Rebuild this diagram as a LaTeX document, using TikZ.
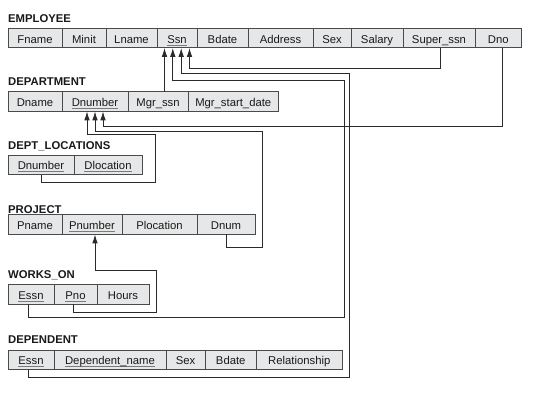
\documentclass[tikz,border=0pt]{standalone}
\usepackage{fontspec}
\setmainfont{Liberation Sans}
\usetikzlibrary{arrows.meta}
\definecolor{cellfill}{HTML}{E6E7E8}
\definecolor{cellline}{HTML}{4A4A4A}
\definecolor{connc}{HTML}{2A2A2A}
\definecolor{ulc}{HTML}{7A7A7A}
\newsavebox\ulbox
\newcommand\keyul[1]{\sbox\ulbox{#1}\rlap{\color{ulc}\rule[-2.3pt]{\wd\ulbox}{0.9pt}}\usebox\ulbox}
\tikzset{
 cellbox/.style={draw=cellline, fill=cellfill, line width=0.9pt, anchor=north west,
   inner sep=0pt, outer sep=0pt, minimum height=19.6pt, text height=10.2pt, text depth=0pt,
   font=\fontsize{11.3}{13}\selectfont, text=black!90},
 tlabel/.style={anchor=base west, inner sep=0pt, font=\fontsize{11.3}{13}\selectfont\bfseries, text=black!90},
 conn/.style={draw=connc, line width=1pt},
 arr/.style={conn, -{Latex[length=9pt,width=5.6pt]}},
}
\newcommand\cellat[5]{\node[cellbox, minimum width={(#3)-(#2)}] (#1) at (#2,#4) {#5};}
\begin{document}
\begin{tikzpicture}[x=1pt,y=-1pt]
\useasboundingbox (0,0) rectangle (546,419);
% EMPLOYEE
\node[tlabel] (lemp) at (8,22.7) {EMPLOYEE};
\cellat{efname}{8}{62}{28.3}{Fname}
\cellat{eminit}{62}{106}{28.3}{Minit}
\cellat{elname}{106}{157}{28.3}{Lname}
\cellat{essn}{157}{197}{28.3}{\keyul{Ssn}}
\cellat{ebdate}{197}{248}{28.3}{Bdate}
\cellat{eaddr}{248}{313}{28.3}{Address}
\cellat{esex}{313}{351}{28.3}{Sex}
\cellat{esal}{351}{403}{28.3}{Salary}
\cellat{esuper}{403}{475}{28.3}{Super\_ssn}
\cellat{edno}{475}{521.7}{28.3}{Dno}
% DEPARTMENT
\node[tlabel] (ldept) at (8,86) {DEPARTMENT};
\cellat{dname}{8}{62}{91.7}{Dname}
\cellat{dnum}{62}{128}{91.7}{\keyul{Dnumber}}
\cellat{dmgr}{128}{188}{91.7}{Mgr\_ssn}
\cellat{dstart}{188}{278.5}{91.7}{Mgr\_start\_date}
% DEPT_LOCATIONS
\node[tlabel] (lloc) at (8,150) {DEPT\_LOCATIONS};
\cellat{ldnum}{8}{74}{155}{\keyul{Dnumber}}
\cellat{llocat}{74}{142}{155}{\keyul{Dlocation}}
% PROJECT
\node[tlabel] (lproj) at (8,213.3) {PROJECT};
\cellat{pname}{8}{62}{214.8}{Pname}
\cellat{pnum}{62}{122}{214.8}{\keyul{Pnumber}}
\cellat{ploc}{122}{197}{214.8}{Plocation}
\cellat{pdnum}{197}{255}{214.8}{Dnum}
% WORKS_ON
\node[tlabel] (lworks) at (8,278.3) {WORKS\_ON};
\cellat{wessn}{8}{54}{284.5}{\keyul{Essn}}
\cellat{wpno}{54}{97}{284.5}{\keyul{Pno}}
\cellat{whours}{97}{149}{284.5}{Hours}
% DEPENDENT
\node[tlabel] (ldep) at (8,343.3) {DEPENDENT};
\cellat{tessn}{8}{54}{350}{\keyul{Essn}}
\cellat{tname}{54}{166}{350}{\keyul{Dependent\_name}}
\cellat{tsex}{166}{205}{350}{Sex}
\cellat{tbdate}{205}{256.5}{350}{Bdate}
\cellat{trel}{256.5}{342}{350}{Relationship}
% arrow tips
\coordinate (sA) at ([xshift=-12.5pt]essn.south);
\coordinate (sB) at ([xshift=-4.2pt]essn.south);
\coordinate (sC) at ([xshift=4.2pt]essn.south);
\coordinate (sD) at ([xshift=12.5pt]essn.south);
\coordinate (dA) at ([xshift=-8pt]dnum.south);
\coordinate (dB) at (dnum.south);
\coordinate (dC) at ([xshift=8pt]dnum.south);
\coordinate (pA) at ([xshift=3pt]pnum.south);
% connectors
\draw[arr] (dmgr.north -| sA) -- (sA);
\draw[arr] ([xshift=-2.7pt]wessn.south) -- ++(0,13) -| (344.3,80.7) -| (sB);
\draw[arr] ([xshift=-2.7pt]tessn.south) -- ++(0,8.4) -| (349,73.3) -| (sC);
\draw[arr] ([xshift=1.7pt]esuper.south) -- ++(0,20.5) -| (sD);
\draw[arr] ([xshift=4pt]edno.south) -- ++(0,78.9) -| (dC);
\draw[arr] (pdnum.south) -- ++(0,13.5) -| (262.7,131.7) -| (dB);
\draw[arr] (ldnum.south) -- ++(0,8.4) -| (155,135) -| (dA);
\draw[arr] ([xshift=-2pt]wpno.south) -- ++(0,8.2) -| (156.7,270.7) -| (pA);
\end{tikzpicture}
\end{document}
